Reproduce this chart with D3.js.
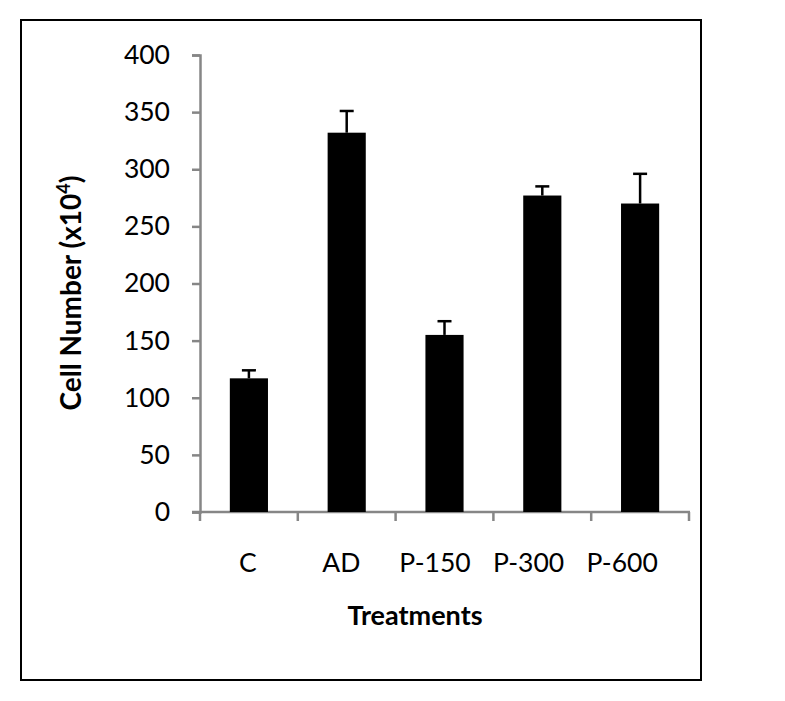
<!DOCTYPE html>
<html><head><meta charset="utf-8">
<script src="https://cdn.jsdelivr.net/npm/d3@7"></script>
<style>
body{margin:0;background:#fff;}
text{font-family:Lato,"Open Sans",sans-serif;}
</style></head>
<body>
<svg id="c" width="785" height="701"></svg>
<script>
const categories = ["C","AD","P-150","P-300","P-600"];
const values = [117, 332, 155, 277, 270];
const errors = [7, 19, 12, 8, 26];
const yTicks = [0,50,100,150,200,250,300,350,400];

const svg = d3.select("#c");
svg.append("rect").attr("x",21).attr("y",20).attr("width",680).attr("height",660)
  .attr("fill","none").attr("stroke","#000").attr("stroke-width",2);

const x0 = 200, x1 = 689, yTop = 55, yBot = 512;
const x = d3.scaleBand().domain(categories).range([x0,x1]);
const xLab = d3.scaleBand().domain(categories).range([201,669]);
const y = d3.scaleLinear().domain([0,400]).range([yBot,yTop]);

const barW = x.bandwidth()*0.39;
const g = svg.append("g");
const grey = "#868686";

// y axis
const yAxis = g.append("g").attr("transform",`translate(${x0},0)`)
  .call(d3.axisLeft(y).tickValues(yTicks).tickSize(8).tickPadding(22));
yAxis.select(".domain").attr("stroke",grey).attr("stroke-width",2.5);
yAxis.selectAll(".tick line").attr("stroke",grey).attr("stroke-width",2.5);
yAxis.selectAll(".tick text").attr("font-size",26.5).attr("fill","#000").attr("font-family","Lato");

// x axis line + boundary ticks
const xAxisG = g.append("g").attr("transform",`translate(0,${yBot})`);
xAxisG.append("line").attr("x1",x0-8).attr("x2",x1+1).attr("stroke",grey).attr("stroke-width",2.5);
const bounds = categories.map(c=>x(c)).concat([x1]);
xAxisG.selectAll("line.tk").data(bounds).join("line").attr("class","tk")
  .attr("x1",d=>d).attr("x2",d=>d).attr("y1",0).attr("y2",9)
  .attr("stroke",grey).attr("stroke-width",2.5);
xAxisG.selectAll("text.lab").data(categories).join("text").attr("class","lab")
  .attr("x",d=>xLab(d)+xLab.bandwidth()/2).attr("y",60)
  .attr("text-anchor","middle").attr("font-size",26.5).text(d=>d);

// bars
g.selectAll("rect.bar").data(categories).join("rect").attr("class","bar")
  .attr("x",d=>x(d)+x.bandwidth()/2-barW/2).attr("width",barW)
  .attr("y",(d,i)=>y(values[i])).attr("height",(d,i)=>yBot-y(values[i]))
  .attr("fill","#000");

// error bars
const eb = g.selectAll("g.eb").data(categories).join("g").attr("class","eb");
eb.append("line").attr("x1",d=>x(d)+x.bandwidth()/2).attr("x2",d=>x(d)+x.bandwidth()/2)
  .attr("y1",(d,i)=>y(values[i])).attr("y2",(d,i)=>y(values[i]+errors[i]))
  .attr("stroke","#000").attr("stroke-width",2.5);
eb.append("line").attr("x1",d=>x(d)+x.bandwidth()/2-7).attr("x2",d=>x(d)+x.bandwidth()/2+7)
  .attr("y1",(d,i)=>y(values[i]+errors[i])).attr("y2",(d,i)=>y(values[i]+errors[i]))
  .attr("stroke","#000").attr("stroke-width",2.5);

// axis titles
svg.append("text").attr("x",415).attr("y",625).attr("text-anchor","middle")
  .attr("font-size",27).attr("font-weight","bold").text("Treatments");
const yl = svg.append("text").attr("transform","translate(81,293) rotate(-90)")
  .attr("text-anchor","middle").attr("font-size",28).attr("font-weight","bold");
yl.append("tspan").text("Cell Number (x10");
yl.append("tspan").attr("dy",-11).attr("font-size",18).text("4");
yl.append("tspan").attr("dy",11).text(")");
</script>
</body></html>
